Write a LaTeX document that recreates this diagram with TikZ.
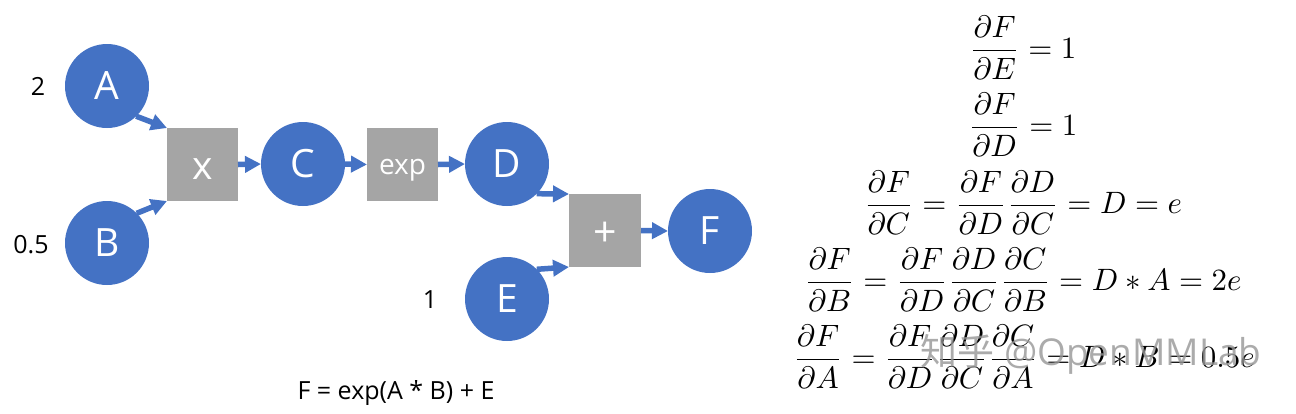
\documentclass[tikz,border=0pt]{standalone}
\usepackage{amsmath}
\usepackage{fontspec}
\setmainfont{Open Sans}
\newfontfamily\cjkwm{Noto Sans CJK SC}
\usetikzlibrary{arrows.meta}
\definecolor{nodeblue}{RGB}{68,114,196}
\definecolor{opgray}{RGB}{165,165,165}
\definecolor{wmgray}{RGB}{150,150,150}
\tikzset{
  valnode/.style={circle,fill=nodeblue,text=white,minimum size=84pt,inner sep=0pt,outer sep=0pt,font=\fontsize{39}{44}\selectfont},
  opnode/.style={rectangle,fill=opgray,text=white,minimum width=71pt,minimum height=73pt,inner sep=0pt,outer sep=0pt,font=\fontsize{39}{44}\selectfont},
  labeltext/.style={inner sep=0pt,text=black,font=\fontsize{25}{29}\selectfont},
  flow/.style={draw=nodeblue,line width=5.5pt,-{Triangle[length=16pt,width=16pt]}},
  eqn/.style={inner sep=0pt,text=black,scale=3.09},
}
\begin{document}
\begin{tikzpicture}[x=1pt,y=-1pt]
\useasboundingbox (0,0) rectangle (1296,413);
\node[valnode] (A) at (107,86) {A};
\node[valnode] (B) at (107,243) {B};
\node[valnode] (C) at (303,164) {C};
\node[valnode] (D) at (507,164) {D};
\node[valnode] (E) at (507,299) {E};
\node[valnode] (F) at (710,231) {F};
\node[opnode,text height=29pt,text depth=0pt] (mul) at (202.5,164.5) {x};
\node[opnode,font=\fontsize{28}{32}\selectfont,text height=20pt,text depth=0pt] (expop) at (402.5,164.5) {exp};
\node[opnode,minimum width=72pt,font=\fontsize{41}{46}\selectfont,text height=31pt,text depth=0pt] (plus) at (605,230.5) {+};
\draw[flow] (A.-46) -- (mul.north west);
\draw[flow] (B.45) -- (mul.south west);
\draw[flow] (mul.east) -- (C.west);
\draw[flow] (C.east) -- (expop.west);
\draw[flow] (expop.east) -- (D.west);
\draw[flow] (D.-45) -- (plus.north west);
\draw[flow] (E.45) -- (plus.south west);
\draw[flow] (plus.east) -- (F.west);
\node[labeltext] (la) at (38,86) {2};
\node[labeltext] (lb) at (31,245) {0.5};
\node[labeltext] (le) at (430,300) {1};
\node[labeltext] (formula) at (396,393) {F = exp(A * B) + E};
\node[eqn] (e1) at (1023,48) {$\displaystyle\frac{\partial F}{\partial E}=1$};
\node[eqn] (e2) at (1023,125) {$\displaystyle\frac{\partial F}{\partial D}=1$};
\node[eqn] (e3) at (1023,203) {$\displaystyle\frac{\partial F}{\partial C}=\frac{\partial F}{\partial D}\frac{\partial D}{\partial C}=D=e$};
\node[eqn] (e4) at (1023,280) {$\displaystyle\frac{\partial F}{\partial B}=\frac{\partial F}{\partial D}\frac{\partial D}{\partial C}\frac{\partial C}{\partial B}=D*A=2e$};
\node[eqn] (e5) at (1024,357) {$\displaystyle\frac{\partial F}{\partial A}=\frac{\partial F}{\partial D}\frac{\partial D}{\partial C}\frac{\partial C}{\partial A}=D*B=0.5e$};
\node[inner sep=0pt,text=wmgray,opacity=.8,font=\fontsize{37}{42}\selectfont] (wm) at (1091,354) {{\cjkwm 知乎} @OpenMMLab};
\end{tikzpicture}
\end{document}
